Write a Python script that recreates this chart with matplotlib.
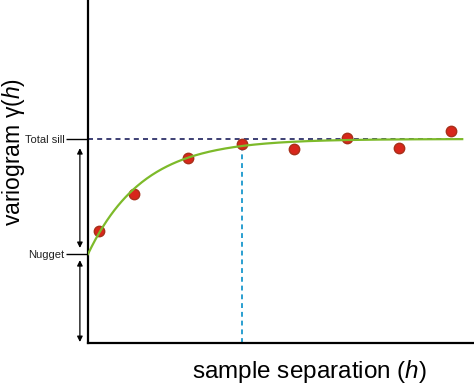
import numpy as np
import matplotlib
matplotlib.use("Agg")
import matplotlib.pyplot as plt

plt.rcParams['font.family'] = ['Liberation Sans', 'DejaVu Sans']
plt.rcParams['mathtext.fontset'] = 'custom'
plt.rcParams['mathtext.rm'] = 'Liberation Sans'
plt.rcParams['mathtext.it'] = 'Liberation Sans:italic'

# Experimental variogram (lag in units of the range, gamma in units of the sill)
lags = [0.07, 0.30, 0.65, 1.00, 1.34, 1.68, 2.02, 2.36]
gamma = [0.549, 0.730, 0.907, 0.975, 0.951, 1.005, 0.956, 1.039]

# Model parameters
nugget = 0.436
sill = 1.0
model_range = 1.0
max_lag = 2.43

fig = plt.figure(figsize=(4.74, 3.84), dpi=100)
ax = fig.add_axes([88 / 474, 41 / 384, 386 / 474, 343 / 384])

# exponential model curve
h = np.linspace(0, max_lag, 300)
model = nugget + (sill - nugget) * (1 - np.exp(-2.8 * h / model_range))

ax.plot(lags, gamma, 'o', color='#d8261b', markeredgecolor='#a8301a',
        markersize=7.5, zorder=2)
ax.plot(h, model, color='#7dba2a', lw=1.6, zorder=3)

# sill and range guides
ax.plot([0, max_lag], [sill, sill], ls=(0, (3, 2.5)), color='#1c1f5c', lw=1.2, zorder=1)
ax.plot([model_range, model_range], [0, 0.97], ls=(0, (2.5, 2)), color='#2a9fd0',
        lw=1.4, zorder=1)

ax.set_xlim(0, 386 / 154)
ax.set_ylim(0, 343 / 204)

# arrows along the y axis
trans = ax.get_yaxis_transform()
arrow = dict(arrowstyle='<|-|>', color='black', lw=0.9, mutation_scale=8,
             shrinkA=0, shrinkB=0)
ax.annotate('', xy=(-0.021, 0.955), xytext=(-0.021, nugget + 0.03),
            xycoords=trans, textcoords=trans, arrowprops=arrow, annotation_clip=False)
ax.annotate('', xy=(-0.021, nugget - 0.03), xytext=(-0.021, 0.005),
            xycoords=trans, textcoords=trans, arrowprops=arrow, annotation_clip=False)

ax.set_yticks([nugget, sill])
ax.set_yticklabels(['Nugget', 'Total sill'], fontsize=8, color='#222222')
ax.tick_params(axis='y', length=16, width=1, pad=1)
ax.set_xticks([])

for s in ['top', 'right']:
    ax.spines[s].set_visible(False)
for s in ['left', 'bottom']:
    ax.spines[s].set_linewidth(1.6)

ax.set_ylabel(r'variogram γ($\mathit{h}$)', fontsize=16.5)
ax.yaxis.set_label_coords(-0.158, 0.557)
ax.set_xlabel(r'sample separation ($\mathit{h}$)', fontsize=17.5)
ax.xaxis.set_label_coords(0.575, -0.045)

fig.savefig('out.png', dpi=100)
